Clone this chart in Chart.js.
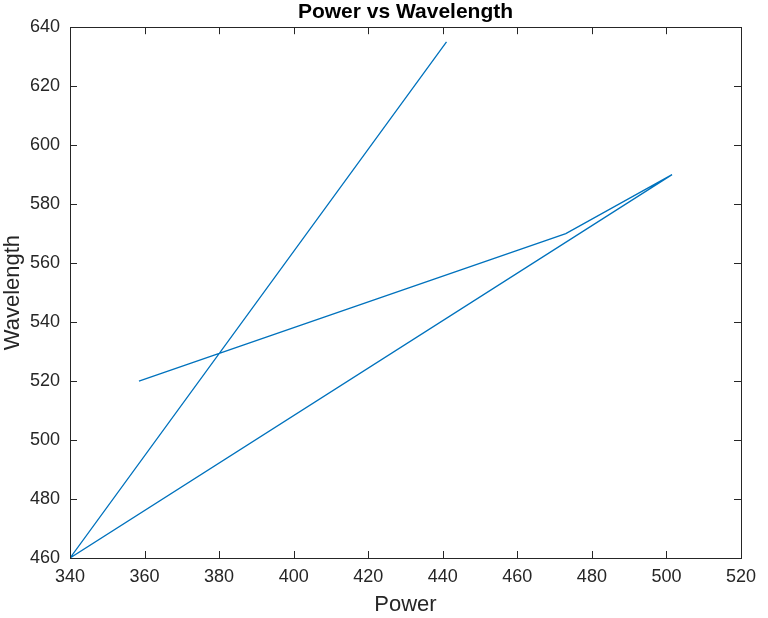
<!DOCTYPE html>
<html>
<head>
<meta charset="utf-8">
<script src="https://cdn.jsdelivr.net/npm/chart.js@4/dist/chart.umd.min.js"></script>
<style>
  html, body { margin: 0; padding: 0; background: #fff; }
  #wrap { width: 768px; height: 618px; }
</style>
</head>
<body>
<div id="wrap"><canvas id="chart" width="768" height="618"></canvas></div>
<script>
var power = [358.5, 473, 501.5, 340, 441];
var wavelength = [520, 570, 590, 460, 635];
var xTicks = [340, 360, 380, 400, 420, 440, 460, 480, 500, 520];
var yTicks = [460, 480, 500, 520, 540, 560, 580, 600, 620, 640];

var axisColor = '#262626';
var fontName = '"Liberation Sans", Arial, sans-serif';

var points = [];
for (var i = 0; i < power.length; i++) {
    points.push({ x: power[i], y: wavelength[i] });
}

// box around the plot with ticks pointing inward (MATLAB look)
var boxPlugin = {
    id: 'box',
    afterDraw: function (chart) {
        var c = chart.ctx;
        var a = chart.chartArea;
        var xs = chart.scales.x, ys = chart.scales.y;
        var len = 7;
        c.save();
        c.strokeStyle = axisColor;
        c.lineWidth = 1;
        c.strokeRect(Math.round(a.left) + 0.5, Math.round(a.top) + 0.5,
            Math.round(a.right - a.left), Math.round(a.bottom - a.top));
        c.beginPath();
        xTicks.forEach(function (v) {
            var px = Math.round(xs.getPixelForValue(v)) + 0.5;
            c.moveTo(px, a.bottom); c.lineTo(px, a.bottom - len);
            c.moveTo(px, a.top); c.lineTo(px, a.top + len);
        });
        yTicks.forEach(function (v) {
            var py = Math.round(ys.getPixelForValue(v)) + 0.5;
            c.moveTo(a.left, py); c.lineTo(a.left + len, py);
            c.moveTo(a.right, py); c.lineTo(a.right - len, py);
        });
        c.stroke();
        c.restore();
    }
};

var ctx = document.getElementById('chart').getContext('2d');
var chart = new Chart(ctx, {
    type: 'scatter',
    data: {
        datasets: [{
            data: points,
            showLine: true,
            borderColor: 'rgb(0, 114, 189)',
            borderWidth: 1.3,
            pointRadius: 0,
            tension: 0,
            fill: false
        }]
    },
    options: {
        responsive: false,
        animation: false,
        layout: { padding: { top: 0, right: 27, bottom: 0, left: 0 } },
        plugins: {
            legend: { display: false },
            tooltip: { enabled: false },
            title: {
                display: true,
                fullSize: false,
                text: 'Power vs Wavelength',
                color: '#000',
                font: { family: fontName, size: 21, weight: 'bold' },
                padding: { top: 0, bottom: 2 }
            }
        },
        scales: {
            x: {
                type: 'linear',
                min: 340,
                max: 520,
                afterBuildTicks: function (s) { s.ticks = xTicks.map(function (v) { return { value: v }; }); },
                afterFit: function (s) { s.height = 60; },
                grid: { display: false, drawTicks: false },
                border: { display: false },
                ticks: {
                    color: axisColor,
                    font: { family: fontName, size: 18 },
                    padding: 8,
                    maxRotation: 0
                },
                title: {
                    display: true,
                    text: 'Power',
                    color: axisColor,
                    font: { family: fontName, size: 22 },
                    padding: { top: 0, bottom: 0 }
                }
            },
            y: {
                type: 'linear',
                min: 460,
                max: 640,
                afterBuildTicks: function (s) { s.ticks = yTicks.map(function (v) { return { value: v }; }); },
                afterFit: function (s) { s.width = 70; },
                grid: { display: false, drawTicks: false },
                border: { display: false },
                ticks: {
                    color: axisColor,
                    font: { family: fontName, size: 18 },
                    padding: 10
                },
                title: {
                    display: true,
                    text: 'Wavelength',
                    color: axisColor,
                    font: { family: fontName, size: 22 },
                    padding: { top: 0, bottom: 0 }
                }
            }
        }
    },
    plugins: [boxPlugin]
});
</script>
</body>
</html>
